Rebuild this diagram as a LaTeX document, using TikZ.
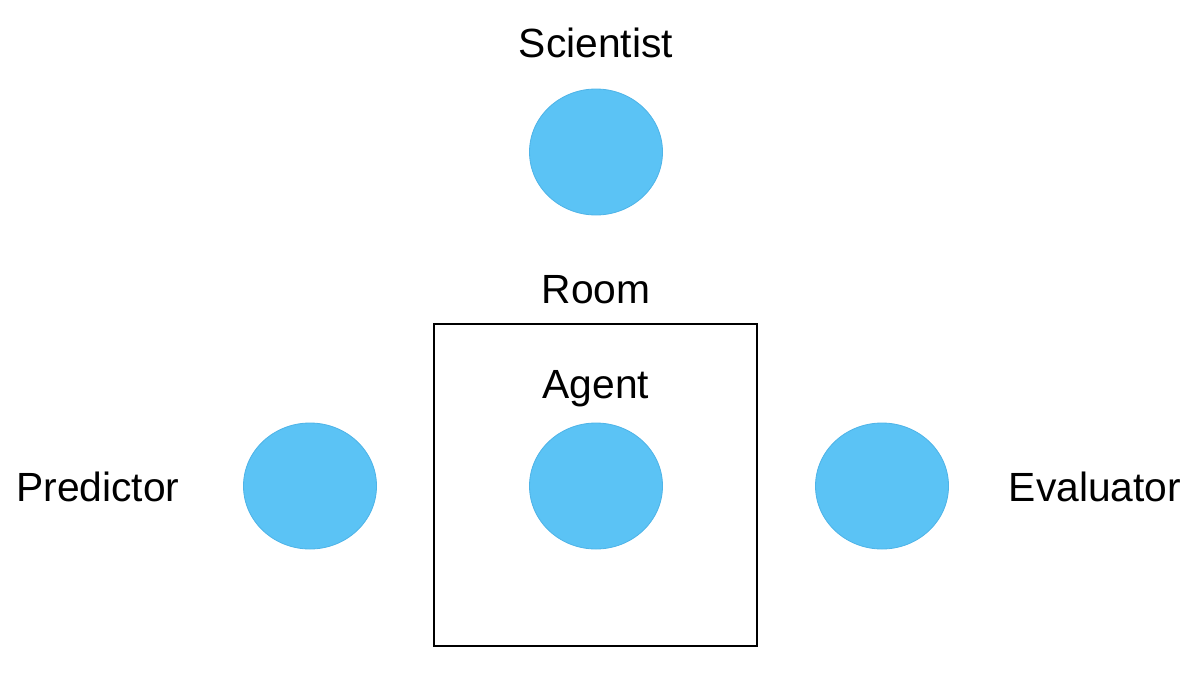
\documentclass[tikz,border=0pt]{standalone}
\usepackage{fontspec}
\setmainfont{Liberation Sans}
\usetikzlibrary{shapes.geometric}
\definecolor{ball}{HTML}{5BC3F5}
\definecolor{balledge}{HTML}{4FB4E8}
\begin{document}
\begin{tikzpicture}[x=0.025cm,y=-0.025cm,
  agentball/.style={ellipse,draw=balledge,fill=ball,line width=0.6pt,minimum width=133*0.025cm,minimum height=126*0.025cm,inner sep=0pt},
  lbl/.style={font=\fontsize{29}{34}\selectfont,text=black,inner sep=0pt}]
\useasboundingbox (0,0) rectangle (1200,677);
\node[agentball] (sci) at (596,152) {};
\node[agentball] (agent) at (596,486) {};
\node[agentball] (pred) at (310,486) {};
\node[agentball] (eval) at (882,486) {};
\node[draw=black,line width=1.3pt,minimum width=323*0.025cm,minimum height=322*0.025cm,inner sep=0pt] (room) at (595.5,485) {};
\node[lbl] (tsci) at (596,43) {Scientist};
\node[lbl] (troom) at (596,290) {Room};
\node[lbl] (tagent) at (596,389) {Agent};
\node[lbl] (tpred) at (98,487) {Predictor};
\node[lbl] (teval) at (1095,487) {Evaluator};
\end{tikzpicture}
\end{document}
